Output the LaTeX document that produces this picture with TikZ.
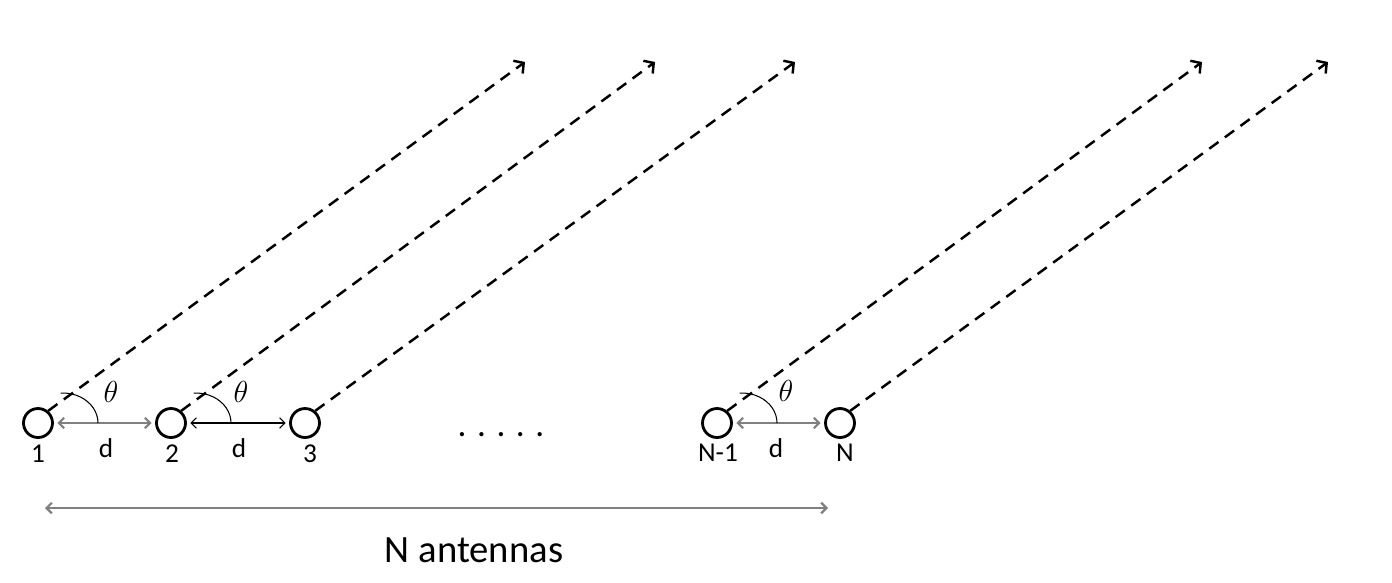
\documentclass[tikz,border=0pt]{standalone}
\usepackage{fontspec}
\setmainfont{Carlito}
\usetikzlibrary{arrows.meta}
\begin{document}
\begin{tikzpicture}[x=0.02cm,y=-0.02cm,
	ant/.style={draw,circle,line width=1.6pt,minimum size=0.58cm,inner sep=0pt},
	ray/.style={dash pattern=on 6.5pt off 4.5pt,line width=1.4pt,-{Straight Barb[length=4pt,width=9pt]}},
	dist/.style={gray,line width=1.2pt,{Straight Barb[length=3pt,width=6pt]}-{Straight Barb[length=3pt,width=6pt]},shorten <=2pt,shorten >=2pt},
	lbl/.style={font=\fontsize{15.5}{18}\selectfont,anchor=base,inner sep=0pt},
	ang/.style={font=\fontsize{17}{20}\selectfont,inner sep=0pt}]

	\useasboundingbox (0,0) rectangle (1392,582);

	% antennak
	\node[ant] (a1) at (38,423) {};
	\node[ant] (a2) at (171,423) {};
	\node[ant] (a3) at (305,423) {};
	\node[ant] (aN1) at (717,423) {};
	\node[ant] (aN) at (840,423) {};

	% beeso hullamfront
	\coordinate (t1) at (525,62);
	\coordinate (t2) at (655,62);
	\coordinate (t3) at (795,62);
	\coordinate (tN1) at (1202,62);
	\coordinate (tN) at (1328,62);
	\foreach \a/\t in {a1/t1,a2/t2,a3/t3,aN1/tN1,aN/tN}
		\draw[ray] (\a.50) -- (\t);

	% tavolsagok
	\draw[dist] (a1) -- (a2);
	\draw[dist,black,line width=0.6pt] (a2) -- (a3);
	\draw[dist] (aN1) -- (aN);
	\foreach \x/\i in {106/1,239/2,776/3}
		\node[lbl] (d\i) at (\x,457) {d};

	% szogek
	\foreach \x/\i in {38/1,171/2,717/3}{
		\draw[line width=0.6pt] (\x+60,423) arc[start angle=0,end angle=-94,x radius=35,y radius=30];
	}
	\node[ang] (th1) at (111,392) {$\theta$};
	\node[ang] (th2) at (241,392) {$\theta$};
	\node[ang] (th3) at (786,391) {$\theta$};

	% sorszamok
	\node[lbl] (n1) at (38,462) {1};
	\node[lbl] (n2) at (172,462) {2};
	\node[lbl] (n3) at (310,462) {3};
	\node[lbl] (nN1) at (718,461) {N-1};
	\node[lbl] (nN) at (845,461) {N};
	\node[lbl,font=\fontsize{20}{24}\selectfont] (dots) at (501,436) {.\hspace{6pt}.\hspace{6pt}.\hspace{6pt}.\hspace{6pt}.};

	% teljes hossz
	\coordinate (bl) at (45,508);
	\coordinate (br) at (828,508);
	\draw[dist,line width=1.3pt,shorten <=0pt,shorten >=0pt] (bl) -- (br);
	\node[lbl,font=\fontsize{22}{26}\selectfont] (cap) at (474,562) {N antennas};

\end{tikzpicture}
\end{document}
